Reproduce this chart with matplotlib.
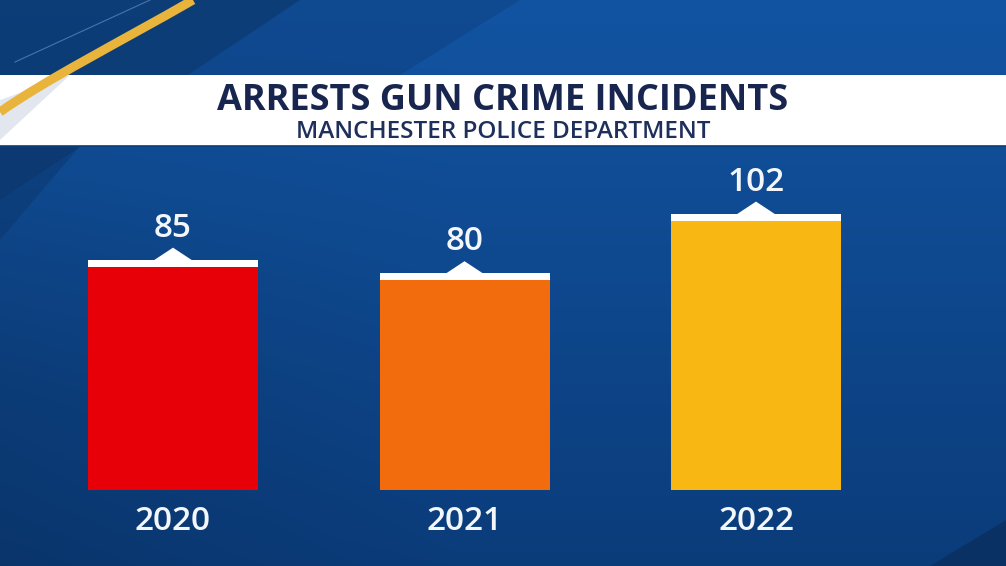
import matplotlib
matplotlib.use("Agg")
import matplotlib.pyplot as plt
import numpy as np
from matplotlib.patches import Polygon, Rectangle
from matplotlib.path import Path
from matplotlib.patches import PathPatch

# ---- data ----
years = ["2020", "2021", "2022"]
arrests = [85, 80, 102]
bar_colors = ["#e80008", "#f26b0c", "#f9b714"]
title = "ARRESTS GUN CRIME INCIDENTS"
subtitle = "MANCHESTER POLICE DEPARTMENT"

W, H = 1006, 566
fig = plt.figure(figsize=(W / 100, H / 100), dpi=100)

# ---- background (pixel coordinates) ----
bg = fig.add_axes([0, 0, 1, 1])
bg.set_xlim(0, W)
bg.set_ylim(H, 0)
bg.axis("off")

yy, xx = np.mgrid[0:H, 0:W]
t = np.clip(yy / H, 0, 1)
rx = xx / W
base_top = np.array([18, 84, 162]) / 255
base_bot = np.array([11, 60, 122]) / 255
img = base_top[None, None, :] * (1 - t[..., None]) + base_bot[None, None, :] * t[..., None]
shade = 1 - 0.12 * np.clip(1 - rx * 2.2, 0, 1) * np.clip(t * 1.4, 0, 1)
img = img * shade[..., None]
bg.imshow(img, extent=(0, W, H, 0), aspect="auto", zorder=0)

# diagonal decorative bands in upper-left area
bands = [
    ([(0, 0), (300, 0), (0, 200)], "#0b3466", 0.7),
    ([(300, 0), (520, 0), (400, 75), (150, 75)], "#0d3e7c", 0.45),
    ([(0, 200), (300, 0), (190, 0), (0, 110)], "#0e3e78", 0.5),
    ([(0, 146), (80, 146), (0, 240)], "#0c3870", 0.55),
]
for pts, c, a in bands:
    bg.add_patch(Polygon(pts, closed=True, color=c, alpha=a, lw=0, zorder=1))

# thin light line
bg.plot([150, 15], [0, 62], color="#6f9ad0", lw=0.8, alpha=0.6, zorder=2)

# white title band
bg.add_patch(Rectangle((0, 75), W, 71, color="white", lw=0, zorder=3))
bg.plot([0, W], [146, 146], color="#0a3d78", lw=1.2, zorder=3.2)
# light grey swoosh at left of band
bg.add_patch(Polygon([(0, 100), (70, 75), (0, 140)], color="#e2e6ee", lw=0, zorder=3.5))

# gold swoosh
verts = [(193, 0), (120, 42), (45, 80), (0, 112)]
codes = [Path.MOVETO, Path.CURVE4, Path.CURVE4, Path.CURVE4]
bg.add_patch(PathPatch(Path(verts, codes), fill=False, edgecolor="#e8b43c", lw=6.5, zorder=4, capstyle="butt"))

# bottom-right dark curve
bg.add_patch(Polygon([(1006, 520), (1006, 566), (930, 566)], color="#082a55", alpha=0.6, lw=0, zorder=1))

bg.text(503, 110, title, ha="center", va="baseline", fontsize=26, fontweight="bold",
        family="Open Sans", color="#18264f", zorder=5)
bg.text(503, 138, subtitle, ha="center", va="baseline", fontsize=17.5, fontweight="semibold",
        family="Open Sans", color="#1f2f5c", zorder=5)

# ---- bar chart ----
px_per_unit = 2.71
zero_px = 490
ymax = 150
ax_h = ymax * px_per_unit
spacing = 291.5
ax_w = 3 * spacing
ax_left = 173 - spacing / 2
ax = fig.add_axes([ax_left / W, (H - zero_px) / H, ax_w / W, ax_h / H])
ax.set_xlim(-0.5, 2.5)
ax.set_ylim(0, ymax)
ax.axis("off")
ax.patch.set_alpha(0)

x = np.arange(len(years))
bw = 170 / spacing
cap = 7 / px_per_unit
vals = np.array(arrests, dtype=float)
ax.bar(x, vals - cap, width=bw, color=bar_colors, edgecolor="none", zorder=2)
ax.bar(x, [cap] * len(x), bottom=vals - cap, width=bw, color="white", edgecolor="none", zorder=3)
tri_half = 19 / spacing
tri_h = 12 / px_per_unit
for xi, v in zip(x, vals):
    ax.add_patch(Polygon([(xi - tri_half, v - 0.2), (xi, v + tri_h), (xi + tri_half, v - 0.2)],
                         closed=True, color="white", lw=0, zorder=3))
    ax.text(xi, v + 23 / px_per_unit, f"{int(v)}", ha="center", va="baseline", fontsize=24,
            fontweight="semibold", family="Open Sans", color="#f3f6fa", zorder=4)
for xi, yr in zip(x, years):
    ax.text(xi, -40 / px_per_unit, yr, ha="center", va="baseline", fontsize=24,
            fontweight="semibold", family="Open Sans", color="#f3f6fa", zorder=4, clip_on=False)

fig.savefig("out.png", dpi=100)
